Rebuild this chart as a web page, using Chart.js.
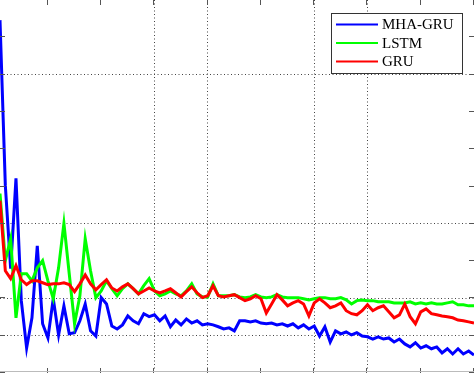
<!DOCTYPE html>
<html>
<head>
<meta charset="utf-8">
<script src="https://cdn.jsdelivr.net/npm/chart.js@4.4.1/dist/chart.umd.min.js"></script>
<style>
    html, body { margin: 0; padding: 0; background: #fff; overflow: hidden; }
    #lossChart { display: block; }
</style>
</head>
<body>
<canvas id="lossChart" width="474" height="373"></canvas>
<script>
const epochs = Array.from({ length: 90 }, (_, i) => i + 1);

const mhaGru = [9.46, 5.03, 2.80, 5.22, 1.94, 0.67, 1.48, 3.41, 1.32, 0.94,
    1.99, 1.02, 1.80, 1.05, 1.08, 1.40, 1.85, 1.13, 0.99, 2.02,
    1.85, 1.26, 1.18, 1.29, 1.53, 1.40, 1.32, 1.59, 1.51, 1.56,
    1.40, 1.53, 1.24, 1.42, 1.29, 1.45, 1.34, 1.40, 1.29, 1.32,
    1.29, 1.24, 1.18, 1.21, 1.13, 1.40, 1.40, 1.37, 1.40, 1.34,
    1.32, 1.34, 1.29, 1.32, 1.26, 1.32, 1.21, 1.29, 1.18, 1.26,
    0.99, 1.24, 0.83, 1.13, 1.05, 1.10, 1.02, 1.08, 0.99, 0.97,
    0.91, 0.97, 0.91, 0.94, 0.83, 0.91, 0.78, 0.70, 0.81, 0.67,
    0.73, 0.65, 0.70, 0.54, 0.65, 0.51, 0.65, 0.51, 0.59, 0.48];

const lstm = [4.81, 3.01, 3.60, 1.48, 2.66, 2.66, 2.47, 2.82, 3.01, 2.47,
    1.99, 2.82, 4.01, 2.66, 1.32, 2.07, 3.60, 2.74, 2.02, 2.20,
    2.47, 2.26, 2.07, 2.26, 2.39, 2.26, 2.12, 2.34, 2.53, 2.20,
    2.07, 2.12, 2.20, 2.12, 2.07, 2.20, 2.39, 2.12, 2.04, 2.04,
    2.39, 2.07, 2.07, 2.07, 2.10, 2.04, 2.02, 2.04, 2.10, 2.04,
    2.02, 2.04, 2.10, 2.04, 2.02, 2.02, 2.02, 1.99, 1.96, 1.99,
    2.02, 2.02, 1.99, 1.99, 2.02, 1.96, 1.85, 1.94, 1.96, 1.94,
    1.94, 1.91, 1.91, 1.91, 1.88, 1.88, 1.88, 1.91, 1.85, 1.88,
    1.85, 1.88, 1.85, 1.85, 1.88, 1.91, 1.83, 1.83, 1.80, 1.80];

const gru = [4.62, 2.74, 2.53, 2.88, 2.50, 2.37, 2.47, 2.47, 2.42, 2.37,
    2.39, 2.39, 2.42, 2.37, 2.18, 2.39, 2.63, 2.39, 2.23, 2.37,
    2.50, 2.28, 2.20, 2.31, 2.39, 2.26, 2.12, 2.20, 2.28, 2.20,
    2.15, 2.20, 2.26, 2.15, 2.04, 2.18, 2.31, 2.15, 2.02, 2.07,
    2.34, 2.07, 2.04, 2.07, 2.10, 2.02, 1.94, 1.99, 2.07, 1.99,
    1.61, 1.85, 2.10, 1.96, 1.80, 1.88, 1.94, 1.85, 1.53, 1.88,
    1.99, 1.88, 1.75, 1.80, 1.88, 1.67, 1.59, 1.56, 1.67, 1.83,
    1.67, 1.75, 1.80, 1.64, 1.48, 1.56, 1.85, 1.51, 1.32, 1.64,
    1.72, 1.59, 1.56, 1.53, 1.51, 1.48, 1.42, 1.40, 1.37, 1.34];

const xTicks = [10, 20, 30, 40, 50, 60, 70, 80, 90];
const yTicks = [0, 1, 2, 3, 4, 5, 6, 7, 8, 9, 10];
// the picture only shows some of the grid lines
const xGridAt = [30, 40, 60, 70];
const yGridAt = [1, 2, 4, 8];

function toPoints(values) {
    return values.map((v, i) => ({ x: epochs[i], y: v }));
}

// matlab style inward ticks, bottom edge line and the boxed legend
const matlabFrame = {
    id: "matlabFrame",
    afterDraw(chart) {
        const { ctx, chartArea, scales } = chart;
        const { left, right, top, bottom } = chartArea;
        const len = 5;
        ctx.save();
        ctx.strokeStyle = "#555";
        ctx.lineWidth = 1;
        ctx.beginPath();
        xTicks.forEach((v) => {
            const px = Math.round(scales.x.getPixelForValue(v)) - 0.5;
            ctx.moveTo(px, top);
            ctx.lineTo(px, top + len);
            ctx.moveTo(px, bottom);
            ctx.lineTo(px, bottom - len);
        });
        yTicks.forEach((v) => {
            const py = Math.round(scales.y.getPixelForValue(v)) - 0.5;
            ctx.moveTo(left, py);
            ctx.lineTo(left + len, py);
            ctx.moveTo(right, py);
            ctx.lineTo(right - len, py);
        });
        ctx.stroke();

        ctx.strokeStyle = "#bbb";
        ctx.beginPath();
        ctx.moveTo(left, bottom - 1.5);
        ctx.lineTo(right, bottom - 1.5);
        ctx.stroke();

        // legend box
        const bx = 331.5, by = 13.5, bw = 131, bh = 60;
        ctx.fillStyle = "#fff";
        ctx.fillRect(bx, by, bw, bh);
        ctx.strokeStyle = "#333";
        ctx.strokeRect(bx, by, bw, bh);
        ctx.font = "15px 'Liberation Serif', 'DejaVu Serif', serif";
        ctx.textBaseline = "middle";
        ctx.textAlign = "left";
        chart.data.datasets.forEach((ds, i) => {
            const ly = 24.5 + i * 18.5;
            ctx.strokeStyle = ds.borderColor;
            ctx.lineWidth = 2;
            ctx.beginPath();
            ctx.moveTo(336, ly);
            ctx.lineTo(378, ly);
            ctx.stroke();
            ctx.fillStyle = "#000";
            ctx.fillText(ds.label, 382, ly + 1);
        });
        ctx.restore();
    },
};

const ctx = document.getElementById("lossChart").getContext("2d");
const chart = new Chart(ctx, {
    type: "line",
    data: {
        datasets: [
            { label: "MHA-GRU", data: toPoints(mhaGru), borderColor: "#0000ff", order: 3 },
            { label: "LSTM", data: toPoints(lstm), borderColor: "#00ff00", order: 2 },
            { label: "GRU", data: toPoints(gru), borderColor: "#ff0000", order: 1 },
        ],
    },
    options: {
        responsive: false,
        animation: false,
        layout: { padding: 0 },
        elements: {
            line: { borderWidth: 3, tension: 0, borderJoinStyle: "miter" },
            point: { radius: 0 },
        },
        plugins: {
            legend: { display: false },
            tooltip: { enabled: false },
        },
        scales: {
            x: {
                type: "linear",
                min: 1,
                max: 90,
                afterBuildTicks: (scale) => {
                    scale.ticks = xTicks.map((v) => ({ value: v }));
                },
                ticks: { display: false },
                grid: {
                    drawTicks: false,
                    lineWidth: 1,
                    color: (c) => (c.tick && xGridAt.includes(c.tick.value) ? "#444" : "rgba(0,0,0,0)"),
                },
                border: { display: false, dash: [1, 2.5] },
            },
            y: {
                type: "linear",
                min: 0,
                max: 10,
                afterBuildTicks: (scale) => {
                    scale.ticks = yTicks.map((v) => ({ value: v }));
                },
                ticks: { display: false },
                grid: {
                    drawTicks: false,
                    lineWidth: 1,
                    color: (c) => (c.tick && yGridAt.includes(c.tick.value) ? "#444" : "rgba(0,0,0,0)"),
                },
                border: { display: false, dash: [1, 2.5] },
            },
        },
    },
    plugins: [matlabFrame],
});
</script>
</body>
</html>
